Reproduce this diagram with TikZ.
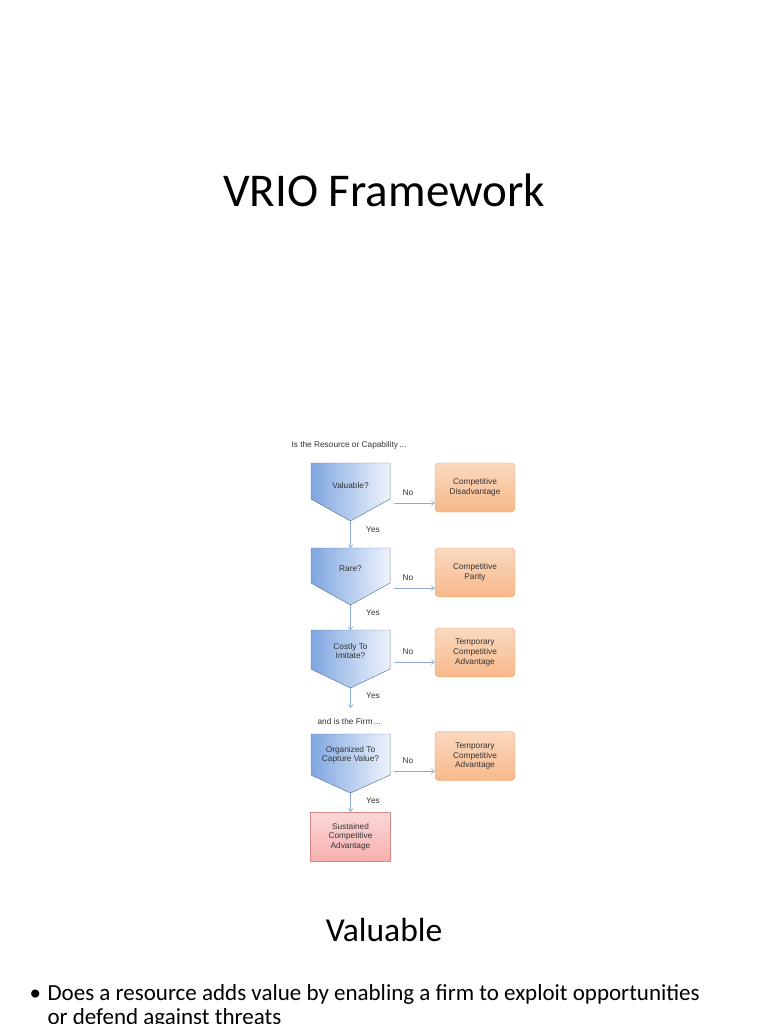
\documentclass[tikz,border=0pt]{standalone}
\usepackage{fontspec}
\setmainfont{Carlito}
\newfontfamily\arialf{Liberation Sans}
\usetikzlibrary{arrows.meta}
\definecolor{qblue}{HTML}{7FA6E0}
\definecolor{qbluel}{HTML}{EEF3FC}
\definecolor{qorange}{HTML}{F7B98A}
\definecolor{qorangeb}{HTML}{E8A070}
\definecolor{qred}{HTML}{F7B0B0}
\definecolor{qredb}{HTML}{D88A8A}
\definecolor{arr}{HTML}{8EAAD0}
\begin{document}
\begin{tikzpicture}[x=1pt,y=-1pt,
  lab/.style={font=\arialf\fontsize{8.3}{9.6}\selectfont,text=black!80,align=center},
  res/.style={draw=qorangeb,rounded corners=4pt,top color=qorange!55,bottom color=qorange,minimum width=80pt,minimum height=49pt,lab},
  flow/.style={draw=arr,line width=0.6pt,-{Straight Barb[length=3pt,width=5pt]}}]
\useasboundingbox[fill=white] (0,0) rectangle (768,1024);
\node[font=\fontsize{47}{56}\selectfont] (title) at (384,190) {VRIO Framework};
\node[lab,anchor=west] (hdr) at (288,445) {Is the Resource or Capability\,...};
% pentagons
\foreach \n/\t/\sb/\tp in {v/463/499/521, r/548/583/605, c/630/669/688, o/734/775/793}{
  \fill[left color=qblue,right color=qbluel,draw=qblue!80!black] (311,\t) -- (390,\t) -- (390,\sb) -- (350.5,\tp) -- (311,\sb) -- cycle;
  \coordinate (\n tip) at (350.5,\tp);
  \coordinate (\n top) at (350.5,\t);
}
\node[lab] (vt) at (350.5,486) {Valuable?};
\node[lab] (rt) at (350.5,569) {Rare?};
\node[lab] (ct) at (350.5,651) {Costly To\\Imitate?};
\node[lab] (ot) at (350.5,755) {Organized To\\Capture Value?};
\node[res] (b1) at (475,487.5) {Competitive\\Disadvantage};
\node[res] (b2) at (475,572.5) {Competitive\\Parity};
\node[res] (b3) at (475,652.5) {Temporary\\Competitive\\Advantage};
\node[res] (b4) at (475,756) {Temporary\\Competitive\\Advantage};
\node[lab,draw=qredb,top color=qred!50,bottom color=qred,minimum width=80pt,minimum height=49pt] (s) at (350.5,836.5) {Sustained\\Competitive\\Advantage};
\node[lab,anchor=west] (firm) at (314,722) {and is the Firm\,...};
\draw[flow] (vtip) -- (rtop);
\draw[flow] (rtip) -- (ctop);
\draw[flow] (ctip) -- (350.5,708);
\draw[flow] (otip) -- (s.north);
\foreach \a/\b/\y in {v/b1/503, r/b2/588, c/b3/662, o/b4/771}{
  \draw[flow] (394,\y) -- (\b.west |- 0,\y);
  \node[lab] at (408,{\y-10}) {No};
}
\foreach \y in {530,613,696,801}{\node[lab] at (373,\y) {Yes};}
\node[font=\fontsize{33.5}{40}\selectfont] (val) at (384,930) {Valuable};
\node[anchor=west,font=\fontsize{23}{27}\selectfont] (bul) at (26,995) {•};
\node[anchor=north west,align=left,font=\fontsize{23}{23.5}\selectfont] (txt) at (44,981) {Does a resource adds value by enabling a firm to exploit opportunities\\or defend against threats};
\end{tikzpicture}
\end{document}
